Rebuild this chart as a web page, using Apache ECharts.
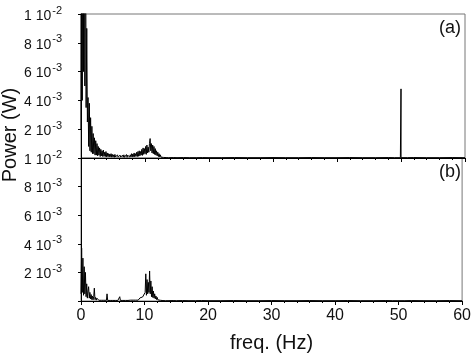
<!DOCTYPE html>
<html>
<head>
<meta charset="utf-8">
<script src="https://cdn.jsdelivr.net/npm/echarts@6/dist/echarts.min.js"></script>
<style>html,body{margin:0;padding:0;background:#fff}#c{width:474px;height:356px}</style>
</head>
<body>
<div id="c"></div>
<script>
// Frequency bins (Hz)
var freq = [
0.0,0.1,0.2,0.3,0.4,0.5,0.6,0.7,0.8,0.9,
1.0,1.1,1.2,1.3,1.4,1.5,1.6,1.7,1.8,1.9,
2.0,2.1,2.2,2.3,2.4,2.5,2.6,2.7,2.8,2.9,
3.0,3.1,3.2,3.3,3.4,3.5,3.6,3.7,3.8,3.9,
4.0,4.1,4.2,4.3,4.4,4.5,4.6,4.7,4.8,4.9,
5.0,5.1,5.2,5.3,5.4,5.5,5.6,5.7,5.8,5.9,
6.0,6.1,6.2,6.3,6.4,6.5,6.6,6.7,6.8,6.9,
7.0,7.1,7.2,7.3,7.4,7.5,7.6,7.7,7.8,7.9,
8.0,8.1,8.2,8.3,8.4,8.5,8.6,8.7,8.8,8.9,
9.0,9.1,9.2,9.3,9.4,9.5,9.6,9.7,9.8,9.9,
10.0,10.1,10.2,10.3,10.4,10.5,10.6,10.7,10.8,10.9,
11.0,11.1,11.2,11.3,11.4,11.5,11.6,11.7,11.8,11.9,
12.0,12.1,12.2,12.3,12.4,12.5,12.6,12.7,12.8,12.9,
13.0,13.1,13.2,13.3,13.4,13.5,13.6,13.7,13.8,13.9,
14.0,14.5,15,16,17,18,19,20,22,24,26,28,30,32,34,36,38,40,42,44,46,48,49,
49.9,49.99,50,50.01,50.1,51,52,54,56,58,60
];
// Power, panel (a), in units of 1e-3 W
var powerA = [
2,30,4,35,6,28,5,20,3.5,9,
2.5,4.2,0.8,3.8,0.5,2.8,0.4,2.2,0.3,1.7,
0.3,1.4,0.2,1.2,0.2,1.0,0.15,0.8,0.2,0.7,
0.1,0.6,0.15,0.5,0.1,0.55,0.12,0.4,0.1,0.45,
0.08,0.35,0.1,0.3,0.07,0.28,0.1,0.3,0.06,0.25,
0.08,0.22,0.05,0.25,0.07,0.2,0.05,0.22,0.06,0.18,
0.05,0.2,0.06,0.17,0.04,0.2,0.06,0.22,0.05,0.18,
0.06,0.24,0.05,0.2,0.07,0.26,0.06,0.22,0.08,0.3,
0.07,0.28,0.1,0.35,0.08,0.3,0.12,0.4,0.1,0.45,
0.12,0.5,0.15,0.45,0.2,0.6,0.18,0.7,0.25,0.65,
0.3,0.8,0.25,0.9,0.35,0.75,0.4,1.0,1.35,0.5,
1.0,0.35,0.9,0.3,0.8,0.25,0.65,0.2,0.5,0.15,
0.4,0.1,0.3,0.08,0.22,0.06,0.15,0.05,0.1,0.04,
0.08,0.03,0.06,0.03,0.05,0.02,0.04,0.02,0.03,0.02,
0.03,0.03,0.02,0.03,0.02,0.02,0.03,0.02,0.02,0.03,0.02,0.02,0.03,0.02,0.02,0.03,0.02,0.02,0.03,0.02,0.02,0.03,0.02,
0.02,0.02,4.8,0.02,0.02,0.02,0.03,0.02,0.02,0.03,0.02
];
// Power, panel (b), in units of 1e-3 W
var powerB = [
0.5,3.7,0.6,3.0,0.4,2.4,0.5,2.0,0.3,1.2,
0.2,0.7,1.0,0.2,0.6,0.15,0.45,0.1,0.35,0.08,
0.3,0.9,0.1,0.25,0.06,0.2,0.08,0.15,0.05,0.12,
0.06,0.15,0.05,0.12,0.04,0.14,0.05,0.1,0.04,0.12,
0.05,0.5,0.04,0.1,0.05,0.12,0.04,0.09,0.05,0.1,
0.04,0.08,0.05,0.1,0.04,0.09,0.05,0.08,0.04,0.1,
0.05,0.3,0.04,0.09,0.05,0.08,0.04,0.1,0.05,0.09,
0.04,0.1,0.05,0.09,0.04,0.11,0.05,0.1,0.06,0.12,
0.05,0.12,0.06,0.1,0.05,0.14,0.06,0.12,0.07,0.15,
0.06,0.18,0.08,0.22,0.1,0.3,0.12,0.28,0.15,0.4,
0.2,0.6,1.9,0.4,1.5,0.5,1.3,0.6,2.1,0.5,
1.4,0.3,1.0,0.25,0.7,0.2,0.5,0.15,0.35,0.1,
0.25,0.08,0.18,0.06,0.14,0.05,0.1,0.04,0.08,0.03,
0.06,0.03,0.05,0.02,0.04,0.02,0.04,0.02,0.03,0.02,
0.03,0.03,0.02,0.03,0.02,0.02,0.03,0.02,0.02,0.03,0.02,0.02,0.03,0.02,0.02,0.03,0.02,0.02,0.03,0.02,0.02,0.03,0.02,
0.02,0.02,0.05,0.02,0.02,0.02,0.03,0.02,0.02,0.03,0.02
];
// Y tick labels (value in 1e-3 W -> [mantissa, exponent])
var yTickValues = [0, 2, 4, 6, 8, 10];
var yTickLabelsA = [null, ['2 10','-3'], ['4 10','-3'], ['6 10','-3'], ['8 10','-3'], ['1 10','-2']];
var yTickLabelsB = [null, ['2 10','-3'], ['4 10','-3'], ['6 10','-3'], ['8 10','-3'], ['1 10','-2']];

function pairs(xs, ys){ var o=[]; for(var i=0;i<xs.length;i++) o.push([xs[i], ys[i]]); return o; }
function fmt(labels){
  return function(v){
    var i = yTickValues.indexOf(Math.round(v));
    if (i < 0 || !labels[i]) return '';
    return '{n|' + labels[i][0] + '}{s|' + labels[i][1] + '}';
  };
}
var FONT = 'Liberation Sans, Arial, sans-serif';
var rich = {
  n: {fontSize: 14, fontFamily: FONT, color: '#111', lineHeight: 18, verticalAlign: 'bottom'},
  s: {fontSize: 11, fontFamily: FONT, color: '#111', lineHeight: 11, verticalAlign: 'top', padding: [0,0,0,1]}
};
function yAxis(idx, labels){
  return {
    type: 'value', gridIndex: idx, min: 0, max: 10, interval: 2,
    axisLine: {show: true, lineStyle: {color: '#000', width: 1}},
    axisTick: {show: true, inside: false, length: 3, lineStyle: {color: '#000'}},
    splitLine: {show: false},
    axisLabel: {margin: 19, formatter: fmt(labels), rich: rich}
  };
}
function xAxis(idx, showLabels){
  return {
    type: 'value', gridIndex: idx, min: 0, max: 60, interval: 10,
    axisLine: {show: true, onZero: false, lineStyle: {color: '#000', width: 1}},
    axisTick: {show: true, inside: false, length: 4, lineStyle: {color: '#000'}},
    minorTick: {show: true, splitNumber: 5, length: 2, lineStyle: {color: '#000'}},
    splitLine: {show: false},
    axisLabel: {show: showLabels, fontSize: 16, fontFamily: FONT, color: '#111', margin: 7},
    name: showLabels ? 'freq. (Hz)' : '',
    nameLocation: 'middle', nameGap: 32,
    nameTextStyle: {fontSize: 20, fontFamily: FONT, color: '#111'}
  };
}
var chart = echarts.init(document.getElementById('c'), null, {renderer: 'canvas'});
chart.setOption({
  animation: false,
  backgroundColor: '#fff',
  grid: [
    {left: 81, top: 14, width: 384, height: 144, show: true, borderColor: '#777', borderWidth: 1, backgroundColor: 'transparent'},
    {left: 81, top: 158, width: 384, height: 143, show: true, borderColor: '#777', borderWidth: 1, backgroundColor: 'transparent'}
  ],
  xAxis: [xAxis(0, false), xAxis(1, true)],
  yAxis: [yAxis(0, yTickLabelsA), yAxis(1, yTickLabelsB)],
  series: [
    {type: 'line', xAxisIndex: 0, yAxisIndex: 0, data: pairs(freq, powerA), showSymbol: false, clip: true,
     lineStyle: {color: '#000', width: 1}},
    {type: 'line', xAxisIndex: 1, yAxisIndex: 1, data: pairs(freq, powerB), showSymbol: false, clip: true,
     lineStyle: {color: '#000', width: 1}}
  ],
  graphic: [
    {type: 'text', x: 10, y: 135, rotation: Math.PI/2, style: {text: 'Power (W)', font: '20px ' + FONT, fill: '#111', textAlign: 'center', textVerticalAlign: 'middle'}},
    {type: 'text', x: 461, y: 28, style: {text: '(a)', font: '18px ' + FONT, fill: '#111', textAlign: 'right', textVerticalAlign: 'middle'}},
    {type: 'text', x: 461, y: 172, style: {text: '(b)', font: '18px ' + FONT, fill: '#111', textAlign: 'right', textVerticalAlign: 'middle'}}
  ]
});
</script>
</body>
</html>
